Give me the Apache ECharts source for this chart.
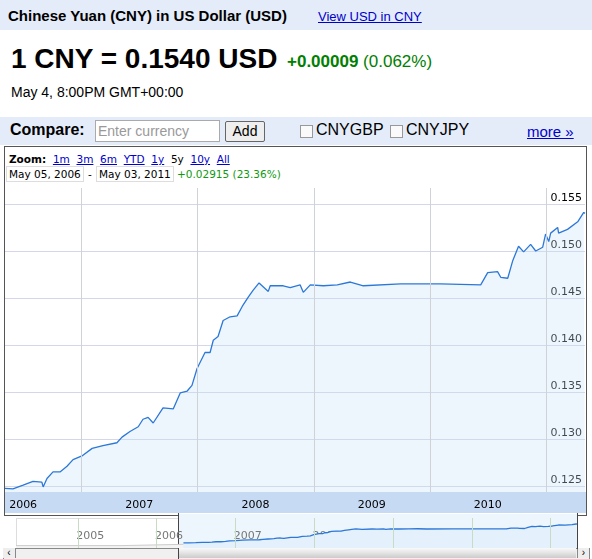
<!DOCTYPE html>
<html>
<head>
<meta charset="utf-8">
<script src="https://cdn.jsdelivr.net/npm/echarts@6/dist/echarts.min.js"></script>
<style>
body { margin:0; width:592px; height:559px; position:relative; font-family:"Liberation Sans", Arial, sans-serif; background:#fff; overflow:hidden; }
.abs { position:absolute; }
a { color:#0000cc; }
.sm { font-family:"DejaVu Sans", Verdana, sans-serif; font-size:10.5px; }
</style>
</head>
<body>
<div class="abs" style="left:0;top:0;width:592px;height:30px;background:#e5ecf9;"></div>
<div class="abs" style="left:8px;top:7px;font-size:15px;font-weight:bold;">Chinese Yuan (CNY) in US Dollar (USD)</div>
<div class="abs" style="left:318px;top:9px;font-size:13px;"><a href="#">View USD in CNY</a></div>
<div class="abs" style="left:11px;top:43px;font-size:28px;font-weight:bold;">1 CNY = 0.1540 USD</div>
<div class="abs" style="left:287px;top:52px;font-size:17px;color:#008000;"><b>+0.00009</b> (0.062%)</div>
<div class="abs" style="left:11px;top:84px;font-size:14px;">May 4, 8:00PM GMT+00:00</div>
<div class="abs" style="left:0;top:117px;width:592px;height:28px;background:#e5ecf9;"></div>
<div class="abs" style="left:10px;top:121px;font-size:16px;font-weight:bold;">Compare:</div>
<div class="abs" style="left:95px;top:120px;width:121px;height:20px;border:1px solid #aaa;background:#fff;font-size:14px;color:#999;line-height:20px;padding-left:2px;">Enter currency</div>
<div class="abs" style="left:225px;top:121px;width:38px;height:19px;border:1px solid #666;border-radius:2px;background:#eee;font-size:14px;text-align:center;line-height:19px;">Add</div>
<div class="abs" style="left:300px;top:125px;width:11px;height:11px;border:1px solid #999;background:#fafafa;"></div>
<div class="abs" style="left:316px;top:121px;font-size:16px;">CNYGBP</div>
<div class="abs" style="left:390px;top:125px;width:11px;height:11px;border:1px solid #999;background:#fafafa;"></div>
<div class="abs" style="left:406px;top:121px;font-size:16px;">CNYJPY</div>
<div class="abs" style="left:527px;top:123px;font-size:15px;"><a href="#">more »</a></div>

<div class="abs" style="left:4px;top:146px;width:581px;height:368px;border:1px solid #555;background:#fff;"></div>
<div class="abs sm" style="left:9px;top:153px;"><b>Zoom:</b> &nbsp;<a href="#">1m</a> &nbsp;<a href="#">3m</a> &nbsp;<a href="#">6m</a> &nbsp;<a href="#">YTD</a> &nbsp;<a href="#">1y</a> &nbsp;5y &nbsp;<a href="#">10y</a> &nbsp;<a href="#">All</a></div>
<div class="abs sm" style="left:6px;top:166px;border:1px solid #ddd;padding:1px 2px;">May 05, 2006</div>
<div class="abs sm" style="left:88px;top:168px;">-</div>
<div class="abs sm" style="left:96px;top:166px;border:1px solid #ddd;padding:1px 2px;">May 03, 2011</div>
<div class="abs sm" style="left:177px;top:168px;color:#119911;">+0.02915 (23.36%)</div>
<div class="abs" style="left:5px;top:492px;width:581px;height:21px;background:#c6daf3;"></div>

<div class="abs" style="left:16px;top:518px;width:161px;height:30px;border:1px solid #ddd;border-bottom:none;background:#fff;"></div>
<div class="abs" style="left:179px;top:514px;width:398px;height:34px;background:#eef6fd;"></div>
<div class="abs" style="left:3px;top:548px;width:585px;height:10px;background:#f0f0f0;border:1px solid #888;"></div>
<div class="abs" style="left:179px;top:548px;width:397px;height:10px;background:linear-gradient(#fafafa,#ccc);"></div>
<div class="abs" style="left:3px;top:548px;width:12px;height:10px;background:#eee;border-right:1px solid #888;font-size:10px;line-height:10px;text-align:center;">‹</div>
<div class="abs" style="left:577px;top:548px;width:11px;height:10px;background:#eee;border-left:1px solid #888;font-size:10px;line-height:10px;text-align:center;">›</div>
<div class="abs" style="left:178px;top:513px;width:1px;height:46px;background:#444;"></div>
<div class="abs" style="left:577px;top:513px;width:1px;height:36px;background:#444;"></div>

<div id="chart" class="abs" style="left:0;top:0;width:592px;height:559px;"></div>
<script>
var dates = ['2006-05-05','2006-05-30','2006-07-01','2006-08-01','2006-08-29','2006-09-02','2006-09-14','2006-10-03','2006-10-25','2006-11-16','2006-12-05',
 '2007-01-02','2007-02-03','2007-03-09','2007-04-22','2007-05-08','2007-06-02','2007-06-28','2007-07-13','2007-07-29','2007-08-14','2007-09-14','2007-10-16','2007-11-07','2007-11-29','2007-12-14','2007-12-30',
 '2008-01-24','2008-02-09','2008-02-19','2008-03-05','2008-03-21','2008-04-12','2008-05-04','2008-05-20','2008-06-08','2008-06-23','2008-07-12','2008-08-10','2008-08-16','2008-09-26','2008-10-18','2008-11-18','2008-11-28','2008-12-20',
 '2009-01-30','2009-03-15','2009-04-25','2009-06-05','2009-09-30','2010-02-03','2010-06-09','2010-07-01','2010-08-01','2010-08-11','2010-09-02','2010-09-18','2010-10-06','2010-10-22','2010-11-13','2010-11-29','2010-12-21','2010-12-30',
 '2011-01-09','2011-01-15','2011-02-06','2011-02-09','2011-03-09','2011-04-10','2011-04-29','2011-05-03'];
var rates = [0.12475,0.1247,0.1251,0.1255,0.1254,0.1249,0.1258,0.1265,0.1265,0.1271,0.1278,
 0.1282,0.1290,0.1293,0.1296,0.1302,0.1308,0.1313,0.1321,0.1323,0.1317,0.1333,0.1332,0.1349,0.1351,0.1357,0.1375,
 0.1392,0.1392,0.1405,0.1409,0.1426,0.1430,0.1431,0.1441,0.1451,0.1458,0.1466,0.1457,0.1463,0.1463,0.1461,0.1464,0.1456,0.1464,
 0.1463,0.1464,0.1467,0.1463,0.1465,0.1465,0.1464,0.1477,0.1478,0.1472,0.1471,0.1490,0.1505,0.1499,0.1507,0.1500,0.1504,0.1518,
 0.1510,0.1519,0.1525,0.1519,0.1523,0.1531,0.1541,0.1540];
var yTicks = [0.125,0.130,0.135,0.140,0.145,0.150,0.155];
var yearStarts = ['2007-01-01','2008-01-01','2009-01-01','2010-01-01','2011-01-01'];
var yearMids = ['2006-07-01','2007-07-01','2008-07-01','2009-07-01','2010-07-01'];
var navYears = ['2005-01-01','2006-01-01','2007-01-01','2008-01-01','2009-01-01','2010-01-01','2011-01-01'];
var navOldDates = ['2004-03-20','2005-07-20','2005-07-22','2006-05-05'];
var navOldRates = [0.1205,0.1205,0.1215,0.1225];

var ts = function(d){ return +new Date(d + 'T00:00:00Z'); };
var series = dates.map(function(d, i){ return [ts(d), rates[i]]; });
var navOld = navOldDates.map(function(d, i){ return [ts(d), navOldRates[i]]; });
var yearFmt = function(v){ return String(new Date(v).getUTCFullYear()); };

chart = echarts.init(document.getElementById('chart'));
chart.setOption({
    animation: false,
    grid: [
        {left: 5, right: 7, top: 188, height: 304},
        {left: 16, right: 15, top: 518, height: 30}
    ],
    xAxis: [{
        type: 'value', min: ts('2006-05-05'), max: ts('2011-05-03'), gridIndex: 0,
        axisLine: {show: false}, splitLine: {show: false},
        axisTick: {show: true, inside: true, length: 5, customValues: yearStarts.map(ts), lineStyle: {color: '#555'}},
        axisLabel: {customValues: yearMids.map(ts), margin: 8, color: '#000', fontSize: 11,
            fontFamily: 'DejaVu Sans', formatter: yearFmt}
    }, {
        type: 'value', min: ts('2004-03-20'), max: ts('2011-05-03'), gridIndex: 1,
        axisLine: {show: false}, axisTick: {show: false}, splitLine: {show: false},
        axisLabel: {customValues: navYears.map(ts), inside: true, margin: 6, color: '#777', fontSize: 11,
            fontFamily: 'DejaVu Sans', formatter: function(v){ return '\u00a0\u00a0\u00a0\u00a0\u00a0\u00a0\u00a0' + yearFmt(v); }}
    }],
    yAxis: [{
        type: 'value', position: 'right', min: 0.12436, max: 0.15670, gridIndex: 0,
        axisLine: {show: false}, splitLine: {show: false},
        axisTick: {show: true, inside: true, length: 580, customValues: yTicks, lineStyle: {color: '#d4d6ea', width: 1}},
        axisLabel: {customValues: yTicks, interval: 0, hideOverlap: false, inside: true, margin: 3, verticalAlign: 'bottom', color: '#000', fontSize: 11,
            fontFamily: 'DejaVu Sans', formatter: function(v){ return v.toFixed(3); }}
    }, {
        type: 'value', min: 0.1168, max: 0.1634, gridIndex: 1, show: false
    }],
    series: [{
        type: 'line', data: series, xAxisIndex: 0, yAxisIndex: 0, symbol: 'none', silent: true, z: 1,
        lineStyle: {color: '#2c78d8', width: 1.3},
        areaStyle: {color: 'rgba(200,228,250,0.45)'},
        markLine: {silent: true, symbol: 'none', label: {show: false}, animation: false,
            data: yearStarts.map(function(d){ return {xAxis: ts(d), lineStyle: {color: '#cfd2d6', width: 1, type: 'solid'}}; })}
    }, {
        type: 'line', data: navOld, xAxisIndex: 1, yAxisIndex: 1, symbol: 'none', silent: true,
        lineStyle: {color: '#ccc', width: 1}, areaStyle: {color: '#f4f4f4', opacity: 1}
    }, {
        type: 'line', data: series, xAxisIndex: 1, yAxisIndex: 1, symbol: 'none', silent: true,
        lineStyle: {color: '#2c78d8', width: 1.3}, areaStyle: {color: '#e4f0fc', opacity: 1},
        markLine: {silent: true, symbol: 'none', label: {show: false}, animation: false,
            data: navYears.map(function(d){ return {xAxis: ts(d), lineStyle: {color: '#c8dcc4', width: 1, type: 'solid'}}; })}
    }]
});
</script>
</body>
</html>
